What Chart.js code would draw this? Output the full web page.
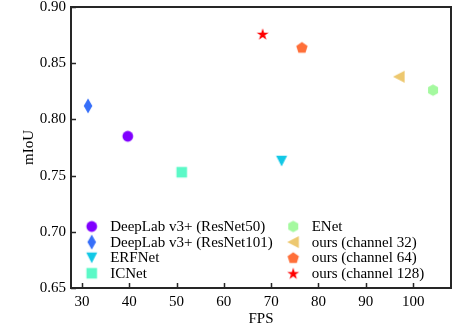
<!DOCTYPE html>
<html>
<head>
<meta charset="utf-8">
<script src="https://cdn.jsdelivr.net/npm/chart.js@4/dist/chart.umd.min.js"></script>
<style>
html,body{margin:0;padding:0;background:#fff;}
canvas{display:block;}
</style>
</head>
<body>
<canvas id="c" width="474" height="323"></canvas>
<script>
// ---- data ----
const models = ["DeepLab v3+ (ResNet50)", "DeepLab v3+ (ResNet101)", "ERFNet", "ICNet",
                "ENet", "ours (channel 32)", "ours (channel 64)", "ours (channel 128)"];
const fps  = [39.7, 31.3, 72.2, 51.1, 104.2, 97.0, 76.5, 68.2];
const miou = [0.785, 0.812, 0.763, 0.753, 0.826, 0.838, 0.864, 0.876];
const colors = ["#8000ff", "#376ff9", "#12c8e6", "#5bf9c7", "#a4f99f", "#edc86f", "#ff6f39", "#ff0000"];
const shapes = ["circle", "diamond", "triDown", "square", "hexagon", "triLeft", "pentagon", "star"];
const xTicks = [30, 40, 50, 60, 70, 80, 90, 100];
const yTicks = [0.65, 0.70, 0.75, 0.80, 0.85, 0.90];

const FONT = "'Liberation Serif', 'Times New Roman', serif";

function polygon(ctx, cx, cy, r, n, rot) {
  ctx.beginPath();
  for (let i = 0; i < n; i++) {
    const a = rot + i * 2 * Math.PI / n;
    const px = cx + r * Math.cos(a), py = cy + r * Math.sin(a);
    if (i === 0) ctx.moveTo(px, py); else ctx.lineTo(px, py);
  }
  ctx.closePath();
}

function makeMarker(shape, color) {
  const W = 16, H = 18;
  const c = document.createElement('canvas');
  c.width = W; c.height = H;
  const ctx = c.getContext('2d');
  const cx = W / 2, cy = H / 2;
  ctx.fillStyle = color;
  ctx.beginPath();
  switch (shape) {
    case 'circle':
      ctx.arc(cx, cy, 5.4, 0, Math.PI * 2); break;
    case 'diamond':
      ctx.moveTo(cx, cy - 7.5); ctx.lineTo(cx + 4.3, cy); ctx.lineTo(cx, cy + 7.5); ctx.lineTo(cx - 4.3, cy); ctx.closePath(); break;
    case 'triDown':
      ctx.moveTo(cx - 5.5, cy - 5.2); ctx.lineTo(cx + 5.5, cy - 5.2); ctx.lineTo(cx, cy + 5.6); ctx.closePath(); break;
    case 'triLeft':
      ctx.moveTo(cx - 6, cy); ctx.lineTo(cx + 5.6, cy - 6); ctx.lineTo(cx + 5.6, cy + 6); ctx.closePath(); break;
    case 'square':
      ctx.rect(cx - 5.3, cy - 5.3, 10.6, 10.6); break;
    case 'hexagon':
      polygon(ctx, cx, cy, 5.8, 6, -Math.PI / 2); break;
    case 'pentagon':
      polygon(ctx, cx, cy + 0.4, 6.0, 5, -Math.PI / 2); break;
    case 'star': {
      const ro = 6.3, ri = ro * 0.382;
      for (let i = 0; i < 10; i++) {
        const r = i % 2 === 0 ? ro : ri;
        const a = -Math.PI / 2 + i * Math.PI / 5;
        const px = cx + r * Math.cos(a), py = cy + 0.6 + r * Math.sin(a);
        if (i === 0) ctx.moveTo(px, py); else ctx.lineTo(px, py);
      }
      ctx.closePath(); break;
    }
  }
  ctx.fill();
  return c;
}

const markers = shapes.map((s, i) => makeMarker(s, colors[i]));

const datasets = models.map((m, i) => ({
  label: m,
  data: [{x: fps[i], y: miou[i]}],
  pointStyle: markers[i],
  backgroundColor: colors[i],
  borderColor: colors[i],
  pointRadius: 6,
  pointHoverRadius: 6
}));

const framePlugin = {
  id: 'frame',
  afterDraw(chart) {
    const ctx = chart.ctx, a = chart.chartArea;
    const xs = chart.scales.x, ys = chart.scales.y;
    ctx.save();
    ctx.strokeStyle = '#262626';
    ctx.lineWidth = 2;
    ctx.strokeRect(a.left, a.top, a.right - a.left, a.bottom - a.top);
    ctx.lineWidth = 1.5;
    ctx.beginPath();
    xTicks.forEach(v => {
      const px = Math.round(xs.getPixelForValue(v)) + 0.5;
      ctx.moveTo(px, a.bottom); ctx.lineTo(px, a.bottom - 5);
    });
    yTicks.forEach(v => {
      const py = Math.round(ys.getPixelForValue(v)) + 0.5;
      ctx.moveTo(a.left, py); ctx.lineTo(a.left + 5, py);
    });
    ctx.stroke();

    // legend (inside plot, two columns)
    ctx.font = "15px " + FONT;
    ctx.fillStyle = '#000';
    ctx.textBaseline = 'middle';
    ctx.textAlign = 'left';
    chart.data.datasets.forEach((ds, i) => {
      const col = Math.floor(i / 4), row = i % 4;
      const mx = a.left + 20.7 + col * 201.5;
      const my = a.bottom - 61.5 + row * 15.6;
      const img = ds.pointStyle;
      ctx.drawImage(img, mx - img.width / 2, my - img.height / 2);
      ctx.fillText(ds.label, mx + 18.5, my + 0.5);
    });
    ctx.restore();
  }
};

new Chart(document.getElementById('c'), {
  type: 'scatter',
  data: { datasets },
  options: {
    responsive: false,
    devicePixelRatio: 1,
    animation: false,
    layout: { padding: { top: 6, right: 23, left: 0, bottom: 0 } },
    plugins: {
      legend: { display: false },
      tooltip: { enabled: false }
    },
    scales: {
      x: {
        type: 'linear',
        min: 27.7, max: 108,
        grid: { display: false, drawTicks: false },
        border: { display: false },
        ticks: { font: { family: FONT, size: 15 }, color: '#000', padding: 5, maxRotation: 0 },
        title: { display: true, text: 'FPS', font: { family: FONT, size: 15 }, color: '#000', padding: { top: 0, bottom: -5 } },
        afterBuildTicks(s) { s.ticks = xTicks.map(v => ({ value: v })); },
        afterFit(s) { s.height = 35; s.paddingLeft = 0; s.paddingRight = 0; }
      },
      y: {
        type: 'linear',
        min: 0.65, max: 0.90,
        grid: { display: false, drawTicks: false },
        border: { display: false },
        ticks: { font: { family: FONT, size: 15 }, color: '#000', padding: 5, callback: v => v.toFixed(2) },
        title: { display: true, text: 'mIoU', font: { family: FONT, size: 15 }, color: '#000', padding: { top: 20, bottom: 0 } },
        afterBuildTicks(s) { s.ticks = yTicks.map(v => ({ value: v })); },
        afterFit(s) { s.width = 71; s.paddingTop = 0; s.paddingBottom = 0; }
      }
    }
  },
  plugins: [framePlugin]
});
</script>
</body>
</html>
